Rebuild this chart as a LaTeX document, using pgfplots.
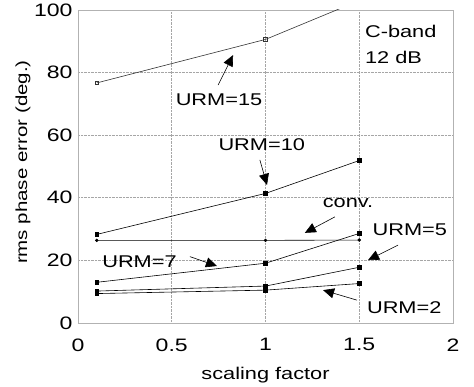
\documentclass[border=0pt]{standalone}
\usepackage{pgfplots}
\pgfplotsset{compat=1.18}
\usepackage{fontspec}
\setmainfont[FakeStretch=1.28]{Liberation Sans}
\usetikzlibrary{arrows.meta}
\begin{document}
\begin{tikzpicture}
\useasboundingbox (-78pt,-64pt) rectangle (396pt,323pt);
\begin{axis}[
  scale only axis, width=375pt, height=313pt,
  xmin=0, xmax=2, ymin=0, ymax=100,
  xtick={0,0.5,1,1.5,2}, ytick={0,20,40,60,80,100},
  xticklabels={0,0.5,1,1.5,2},
  yticklabels={0,20,40,60,80,100},
  major tick length=0pt,
  grid=major,
  grid style={gray!70, densely dotted, line width=0.6pt},
  axis line style={gray!60, line width=0.8pt},
  tick label style={font=\fontsize{18}{20}\selectfont},
  yticklabel style={xshift=-2pt},
  xticklabel style={yshift=-12pt},
  xlabel={scaling factor},
  ylabel={rms phase error (deg.)},
  xlabel style={at={(axis description cs:0.5,-0.166)}, anchor=center, font=\fontsize{17}{20}\selectfont},
  ylabel style={at={(axis description cs:-0.1467,0.514)}, anchor=center, font=\fontsize{16}{20}\selectfont},
  clip mode=individual,
  ps/.style={black, solid, line width=0.6pt, mark=square*, mark size=1.8pt, mark options={solid, black}},
]
% URM=15
\addplot[ps, gray!40!black, mark=square, mark options={solid, gray!40!black}] coordinates {(0.1,76.7) (1,90.6) (1.5,103)};
% URM=10
\addplot[ps] coordinates {(0.1,28.3) (1,41.4) (1.5,51.9)};
% conv.
\addplot[ps, mark=*, mark size=1.4pt] coordinates {(0.1,26.4) (1,26.4) (1.5,26.5)};
% URM=7
\addplot[ps] coordinates {(0.1,13.0) (1,19.1) (1.5,28.6)};
% URM=5
\addplot[ps] coordinates {(0.1,10.2) (1,11.8) (1.5,17.8)};
% URM=2
\addplot[ps] coordinates {(0.1,9.4) (1,10.5) (1.5,12.6)};

\tikzset{lbl/.style={font=\fontsize{17}{20}\selectfont, inner sep=0pt}, arr/.style={-{Triangle[length=11pt,width=10pt]}, line width=0.6pt}}
\node[lbl, anchor=west] at (axis cs:1.53,93.3) {C-band};
\node[lbl, anchor=west] at (axis cs:1.53,84.7) {12 dB};
\node[lbl] at (axis cs:0.752,71.2) {URM=15};
\draw[arr] (axis cs:0.747,76.0) -- (axis cs:0.827,85.6);
\node[lbl] at (axis cs:0.98,56.9) {URM=10};
\draw[arr] (axis cs:0.97,52.1) -- (axis cs:1.008,44.1);
\node[lbl] at (axis cs:1.44,38.3) {conv.};
\draw[arr] (axis cs:1.37,33.9) -- (axis cs:1.21,28.8);
\node[lbl] at (axis cs:1.77,29.7) {URM=5};
\draw[arr] (axis cs:1.707,24.9) -- (axis cs:1.547,20.1);
\node[lbl] at (axis cs:1.74,4.9) {URM=2};
\draw[arr] (axis cs:1.488,7.3) -- (axis cs:1.307,10.5);
\node[lbl] at (axis cs:0.328,19.6) {URM=7};
\draw[arr] (axis cs:0.597,21.2) -- (axis cs:0.741,18.2);
\end{axis}
\end{tikzpicture}
\end{document}
